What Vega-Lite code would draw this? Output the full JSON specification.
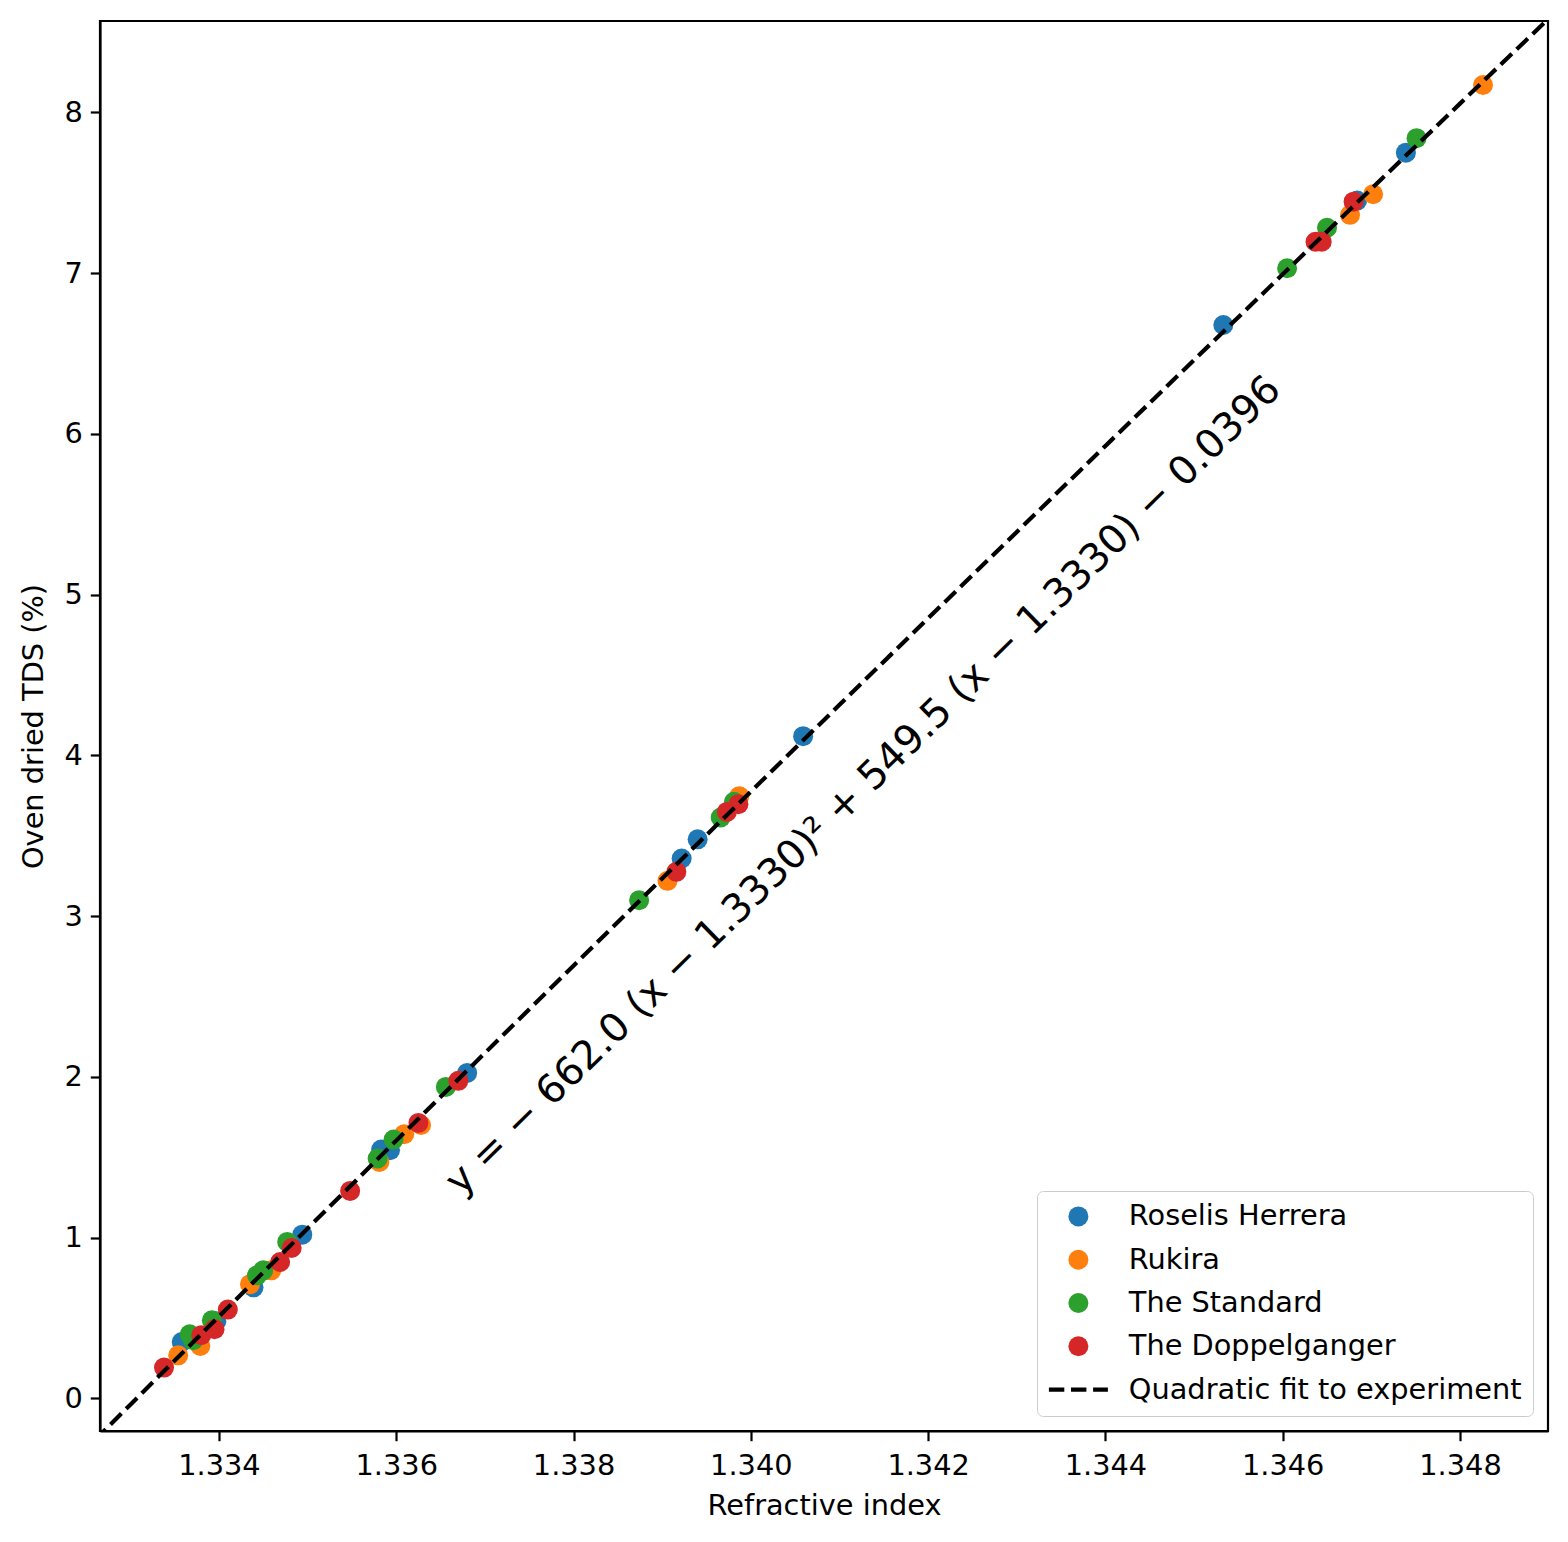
{
  "$schema": "https://vega.github.io/schema/vega-lite/v6.json",
  "autosize": "none",
  "padding": {"left": 100, "top": 21, "right": 20, "bottom": 111},
  "width": 1448,
  "height": 1410,
  "background": "white",
  "datasets": {
    "points": [
      {"series": "Roselis Herrera", "ri": 1.33358, "tds": 0.350},
      {"series": "Roselis Herrera", "ri": 1.33397, "tds": 0.480},
      {"series": "Roselis Herrera", "ri": 1.33439, "tds": 0.690},
      {"series": "Roselis Herrera", "ri": 1.33494, "tds": 1.018},
      {"series": "Roselis Herrera", "ri": 1.33583, "tds": 1.548},
      {"series": "Roselis Herrera", "ri": 1.33593, "tds": 1.543},
      {"series": "Roselis Herrera", "ri": 1.33680, "tds": 2.024},
      {"series": "Roselis Herrera", "ri": 1.33922, "tds": 3.358},
      {"series": "Roselis Herrera", "ri": 1.33940, "tds": 3.477},
      {"series": "Roselis Herrera", "ri": 1.34059, "tds": 4.119},
      {"series": "Roselis Herrera", "ri": 1.34533, "tds": 6.677},
      {"series": "Roselis Herrera", "ri": 1.34684, "tds": 7.451},
      {"series": "Roselis Herrera", "ri": 1.34739, "tds": 7.749},
      {"series": "Rukira", "ri": 1.33354, "tds": 0.267},
      {"series": "Rukira", "ri": 1.33379, "tds": 0.325},
      {"series": "Rukira", "ri": 1.33435, "tds": 0.710},
      {"series": "Rukira", "ri": 1.33459, "tds": 0.796},
      {"series": "Rukira", "ri": 1.33581, "tds": 1.470},
      {"series": "Rukira", "ri": 1.33609, "tds": 1.643},
      {"series": "Rukira", "ri": 1.33628, "tds": 1.700},
      {"series": "Rukira", "ri": 1.33906, "tds": 3.219},
      {"series": "Rukira", "ri": 1.33987, "tds": 3.746},
      {"series": "Rukira", "ri": 1.34676, "tds": 7.362},
      {"series": "Rukira", "ri": 1.34702, "tds": 7.490},
      {"series": "Rukira", "ri": 1.34826, "tds": 8.170},
      {"series": "The Standard", "ri": 1.33367, "tds": 0.398},
      {"series": "The Standard", "ri": 1.33371, "tds": 0.361},
      {"series": "The Standard", "ri": 1.33392, "tds": 0.485},
      {"series": "The Standard", "ri": 1.33443, "tds": 0.765},
      {"series": "The Standard", "ri": 1.33450, "tds": 0.796},
      {"series": "The Standard", "ri": 1.33477, "tds": 0.973},
      {"series": "The Standard", "ri": 1.33579, "tds": 1.492},
      {"series": "The Standard", "ri": 1.33597, "tds": 1.610},
      {"series": "The Standard", "ri": 1.33656, "tds": 1.937},
      {"series": "The Standard", "ri": 1.33874, "tds": 3.099},
      {"series": "The Standard", "ri": 1.33966, "tds": 3.613},
      {"series": "The Standard", "ri": 1.33981, "tds": 3.711},
      {"series": "The Standard", "ri": 1.34605, "tds": 7.030},
      {"series": "The Standard", "ri": 1.34650, "tds": 7.282},
      {"series": "The Standard", "ri": 1.34751, "tds": 7.839},
      {"series": "The Doppelganger", "ri": 1.33338, "tds": 0.191},
      {"series": "The Doppelganger", "ri": 1.33380, "tds": 0.392},
      {"series": "The Doppelganger", "ri": 1.33395, "tds": 0.430},
      {"series": "The Doppelganger", "ri": 1.33410, "tds": 0.552},
      {"series": "The Doppelganger", "ri": 1.33469, "tds": 0.848},
      {"series": "The Doppelganger", "ri": 1.33482, "tds": 0.935},
      {"series": "The Doppelganger", "ri": 1.33548, "tds": 1.290},
      {"series": "The Doppelganger", "ri": 1.33625, "tds": 1.713},
      {"series": "The Doppelganger", "ri": 1.33670, "tds": 1.975},
      {"series": "The Doppelganger", "ri": 1.33916, "tds": 3.275},
      {"series": "The Doppelganger", "ri": 1.33973, "tds": 3.648},
      {"series": "The Doppelganger", "ri": 1.33986, "tds": 3.696},
      {"series": "The Doppelganger", "ri": 1.34637, "tds": 7.195},
      {"series": "The Doppelganger", "ri": 1.34644, "tds": 7.195},
      {"series": "The Doppelganger", "ri": 1.34680, "tds": 7.444}
    ],
    "fit": [
      {"ri": 1.3326, "tds": -0.2595},
      {"ri": 1.333, "tds": -0.0396},
      {"ri": 1.334, "tds": 0.5092},
      {"ri": 1.335, "tds": 1.0568},
      {"ri": 1.336, "tds": 1.6029},
      {"ri": 1.337, "tds": 2.1478},
      {"ri": 1.338, "tds": 2.6914},
      {"ri": 1.339, "tds": 3.2336},
      {"ri": 1.340, "tds": 3.7745},
      {"ri": 1.341, "tds": 4.3140},
      {"ri": 1.342, "tds": 4.8523},
      {"ri": 1.343, "tds": 5.3892},
      {"ri": 1.344, "tds": 5.9248},
      {"ri": 1.345, "tds": 6.4591},
      {"ri": 1.346, "tds": 6.9920},
      {"ri": 1.347, "tds": 7.5237},
      {"ri": 1.348, "tds": 8.0540},
      {"ri": 1.349, "tds": 8.5829}
    ],
    "note": [
      {"ri": 1.34127, "tds": 3.81, "label": "y = − 662.0 (x − 1.3330)² + 549.5 (x − 1.3330) − 0.0396"}
    ]
  },
  "layer": [
    {
      "data": {"name": "points"},
      "mark": {"type": "circle", "size": 400, "opacity": 1, "strokeWidth": 0},
      "encoding": {
        "x": {
          "field": "ri", "type": "quantitative",
          "scale": {"domain": [1.332658, 1.348993], "nice": false, "zero": false},
          "axis": {"title": "Refractive index", "values": [1.334, 1.336, 1.338, 1.340, 1.342, 1.344, 1.346, 1.348], "format": ".3f", "labelFlush": false, "labelOverlap": false, "labelPadding": 11, "titlePadding": 11}
        },
        "y": {
          "field": "tds", "type": "quantitative",
          "scale": {"domain": [-0.2035, 8.568], "nice": false, "zero": false},
          "axis": {"title": "Oven dried TDS (%)", "values": [0, 1, 2, 3, 4, 5, 6, 7, 8], "format": "d", "labelOverlap": false, "labelPadding": 8, "titlePadding": 15}
        },
        "color": {
          "field": "series", "type": "nominal",
          "scale": {
            "domain": ["Roselis Herrera", "Rukira", "The Standard", "The Doppelganger", "Quadratic fit to experiment"],
            "range": ["#1f77b4", "#ff7f0e", "#2ca02c", "#d62728", "#000000"]
          },
          "legend": {
            "title": null,
            "orient": "bottom-right",
            "offset": 15,
            "padding": 11,
            "strokeColor": "#cccccc",
            "cornerRadius": 6,
            "fillColor": "rgba(255,255,255,0.8)",
            "labelFontSize": 28.8,
            "labelColor": "black",
            "labelFont": "DejaVu Sans",
            "labelLimit": 600,
            "labelOffset": 36,
            "symbolOffset": 16,
            "symbolSize": 3481,
            "symbolOpacity": 1,
            "rowPadding": 13.3,
            "encode": {
              "symbols": {
                "update": {
                  "shape": {"signal": "datum.value === 'Quadratic fit to experiment' ? 'stroke' : 'circle'"},
                  "size": {"signal": "datum.value === 'Quadratic fit to experiment' ? 3481 : 400"},
                  "stroke": {"signal": "datum.value === 'Quadratic fit to experiment' ? 'black' : 'transparent'"},
                  "strokeWidth": {"signal": "datum.value === 'Quadratic fit to experiment' ? 4.2 : 0"},
                  "strokeDash": {"signal": "datum.value === 'Quadratic fit to experiment' ? [15.4, 6.7] : [1, 0]"}
                }
              }
            }
          }
        }
      }
    },
    {
      "data": {"name": "fit"},
      "mark": {"type": "line", "color": "black", "strokeWidth": 4.2, "strokeDash": [15.4, 6.7], "clip": true},
      "encoding": {
        "x": {"field": "ri", "type": "quantitative"},
        "y": {"field": "tds", "type": "quantitative"}
      }
    },
    {
      "data": {"name": "note"},
      "mark": {"type": "text", "fontSize": 39.5, "font": "DejaVu Sans", "angle": 315.6, "align": "center", "baseline": "middle", "color": "black"},
      "encoding": {
        "x": {"field": "ri", "type": "quantitative"},
        "y": {"field": "tds", "type": "quantitative"},
        "text": {"field": "label"}
      }
    }
  ],
  "config": {
    "font": "DejaVu Sans",
    "view": {"stroke": "black", "strokeWidth": 2.2},
    "axis": {
      "grid": false,
      "domainColor": "black",
      "domainWidth": 2.2,
      "tickColor": "black",
      "tickWidth": 2.2,
      "tickSize": 9.7,
      "labelFontSize": 28.8,
      "labelColor": "black",
      "labelFont": "DejaVu Sans",
      "titleFont": "DejaVu Sans",
      "titleFontSize": 28.8,
      "titleFontWeight": "normal",
      "titleColor": "black"
    }
  }
}
